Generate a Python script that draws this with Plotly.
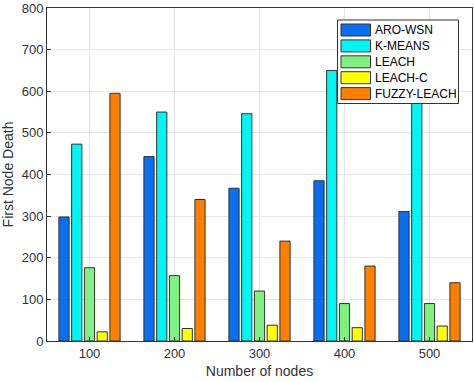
import plotly.graph_objects as go

categories = ["100", "200", "300", "400", "500"]
aro_wsn = [298, 443, 367, 385, 311]
k_means = [473, 550, 546, 650, 610]
leach = [176, 157, 120, 90, 90]
leach_c = [22, 30, 38, 32, 36]
fuzzy_leach = [595, 340, 240, 180, 140]
y_ticks = [0, 100, 200, 300, 400, 500, 600, 700, 800]

series = [
    ("ARO-WSN", aro_wsn, "#0a6ef0"),
    ("K-MEANS", k_means, "#00f5f5"),
    ("LEACH", leach, "#80f080"),
    ("LEACH-C", leach_c, "#ffff00"),
    ("FUZZY-LEACH", fuzzy_leach, "#ff7f00"),
]

W, H = 474, 382
ML, MR, MT, MB = 47, 2, 8, 41
PW, PH = W - ML - MR, H - MT - MB


def px_x(px):
    return (px - ML) / PW


def px_y(py):
    return (H - MB - py) / PH


fig = go.Figure()
for name, vals, col in series:
    fig.add_trace(go.Bar(
        x=categories, y=vals, name=name, showlegend=False,
        marker=dict(color=col, line=dict(color="#333333", width=1)),
    ))

# manual legend (box with wide swatches, like the reference)
shapes = [dict(type="rect", xref="paper", yref="paper",
               x0=px_x(337.5), x1=px_x(458.5), y0=px_y(103.5), y1=px_y(20),
               fillcolor="white", line=dict(color="#333333", width=1), layer="above")]
annotations = []
row0, row_step = 30, 15.9
for i, (name, _, col) in enumerate(series):
    cy = row0 + i * row_step
    shapes.append(dict(type="rect", xref="paper", yref="paper",
                       x0=px_x(341), x1=px_x(370.5), y0=px_y(cy + 6), y1=px_y(cy - 6),
                       fillcolor=col, line=dict(color="#333333", width=1), layer="above"))
    annotations.append(dict(xref="paper", yref="paper", x=px_x(373), y=px_y(cy),
                            xanchor="left", yanchor="middle", showarrow=False,
                            text=name, font=dict(size=12, color="black",
                                                 family="Arial, Liberation Sans, sans-serif")))

axis_common = dict(
    showline=True, linecolor="#333333", linewidth=1, mirror=True,
    showgrid=True, gridcolor="#e6e6e6", gridwidth=1,
    ticks="inside", ticklen=4, tickcolor="#333333",
    tickfont=dict(family="Arial, Liberation Sans, sans-serif", size=13, color="#333333"),
    zeroline=False, automargin=False,
)

fig.update_layout(
    width=W, height=H,
    margin=dict(l=ML, r=MR, t=MT, b=MB, autoexpand=False),
    paper_bgcolor="white", plot_bgcolor="white",
    barmode="group", bargap=0.25, bargroupgap=0.2,
    font=dict(family="Arial, Liberation Sans, sans-serif", color="#333333"),
    xaxis=dict(axis_common, type="category",
               title=dict(text="Number of nodes", font=dict(size=14), standoff=6)),
    yaxis=dict(axis_common, range=[0, 800], tickvals=y_ticks,
               title=dict(text="First Node Death", font=dict(size=14), standoff=4)),
    shapes=shapes,
    annotations=annotations,
    showlegend=False,
)

fig.write_html("out.html", config={"displayModeBar": False},
               post_script="document.body.style.margin='0';document.body.style.padding='0';")
